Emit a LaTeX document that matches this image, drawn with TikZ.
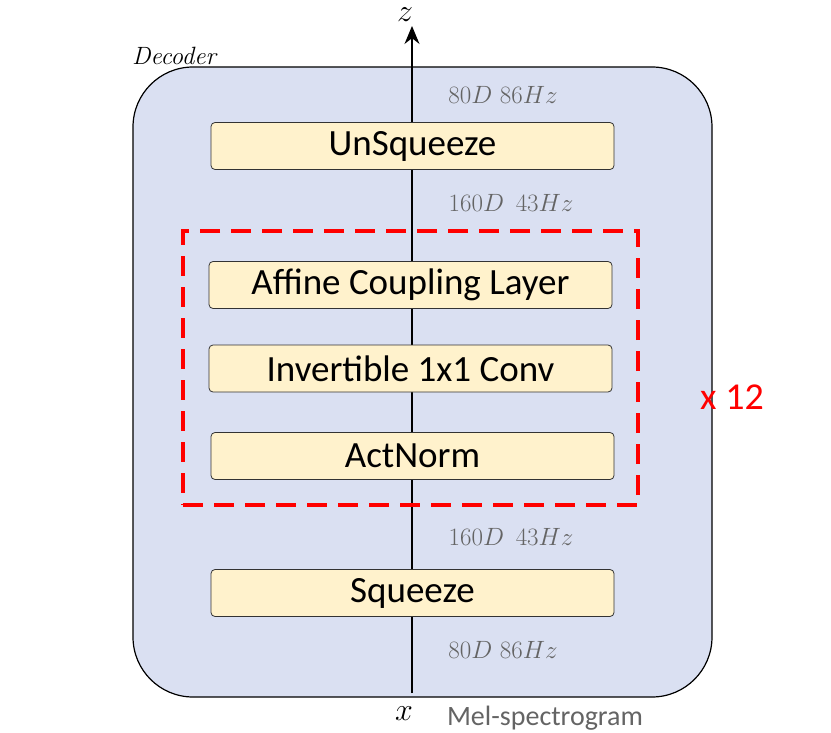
\RequirePackage{fix-cm}
\documentclass[tikz,border=0pt]{standalone}
\usepackage{fontspec}
\setmainfont{Carlito}
\newfontfamily\lmit{Latin Modern Roman}
\usetikzlibrary{arrows.meta}
\definecolor{decfill}{RGB}{218,224,242}
\definecolor{boxfill}{RGB}{255,242,204}
\definecolor{lblgray}{RGB}{100,100,100}
\begin{document}
\begin{tikzpicture}[x=1pt,y=-1pt,
  layer/.style={draw=black!80,line width=0.8pt,fill=boxfill,rounded corners=4pt,minimum width=403pt,minimum height=47pt,inner sep=0pt,font=\fontsize{37}{40}\selectfont},
  dim/.style={text=lblgray,font=\fontsize{25}{27}\selectfont\lmit}]
\useasboundingbox (0,0) rectangle (831,733);
\node[anchor=south west,inner sep=1pt,font=\fontsize{25}{27}\selectfont\lmit\itshape] (dec) at (131,66) {Decoder};
\node[draw=black,line width=1.2pt,fill=decfill,rounded corners=60pt,minimum width=579pt,minimum height=630pt,inner sep=0pt] (frame) at (422.5,382) {};
\coordinate (bot) at (412,693);
\coordinate (top) at (412,26);
\draw[line width=1.2pt,-{Stealth[length=18pt,width=15pt]}] (bot) -- (top);
\node[layer] (unsq) at (412.5,146) {UnSqueeze};
\node[layer] (aff) at (410.5,285) {Affine Coupling Layer};
\node[layer] (inv) at (410.5,368.5) {Invertible 1x1 Conv};
\node[layer] (act) at (412.5,456) {ActNorm};
\node[layer] (sq) at (412.5,593) {Squeeze};
\node[draw=red,line width=4.5pt,dash pattern=on 20pt off 11pt,minimum width=455pt,minimum height=274pt,inner sep=0pt] (rep) at (410.5,368) {};
\node[text=red,font=\fontsize{38}{40}\selectfont] (rep12) at (732,397) {x 12};
\node[font=\fontsize{32}{34}\selectfont] (z) at (405,15) {$z$};
\node[dim] (d1) at (503,95) {80$D$ 86$Hz$};
\node[dim] (d2) at (511,203) {160$D$\, 43$Hz$};
\node[dim] (d3) at (511,537) {160$D$\, 43$Hz$};
\node[dim] (d4) at (503,650) {80$D$ 86$Hz$};
\node[font=\fontsize{32}{34}\selectfont] (x) at (404,714) {$x$};
\node[text=lblgray,font=\fontsize{28}{30}\selectfont] (mel) at (545,718) {Mel-spectrogram};
\end{tikzpicture}
\end{document}
